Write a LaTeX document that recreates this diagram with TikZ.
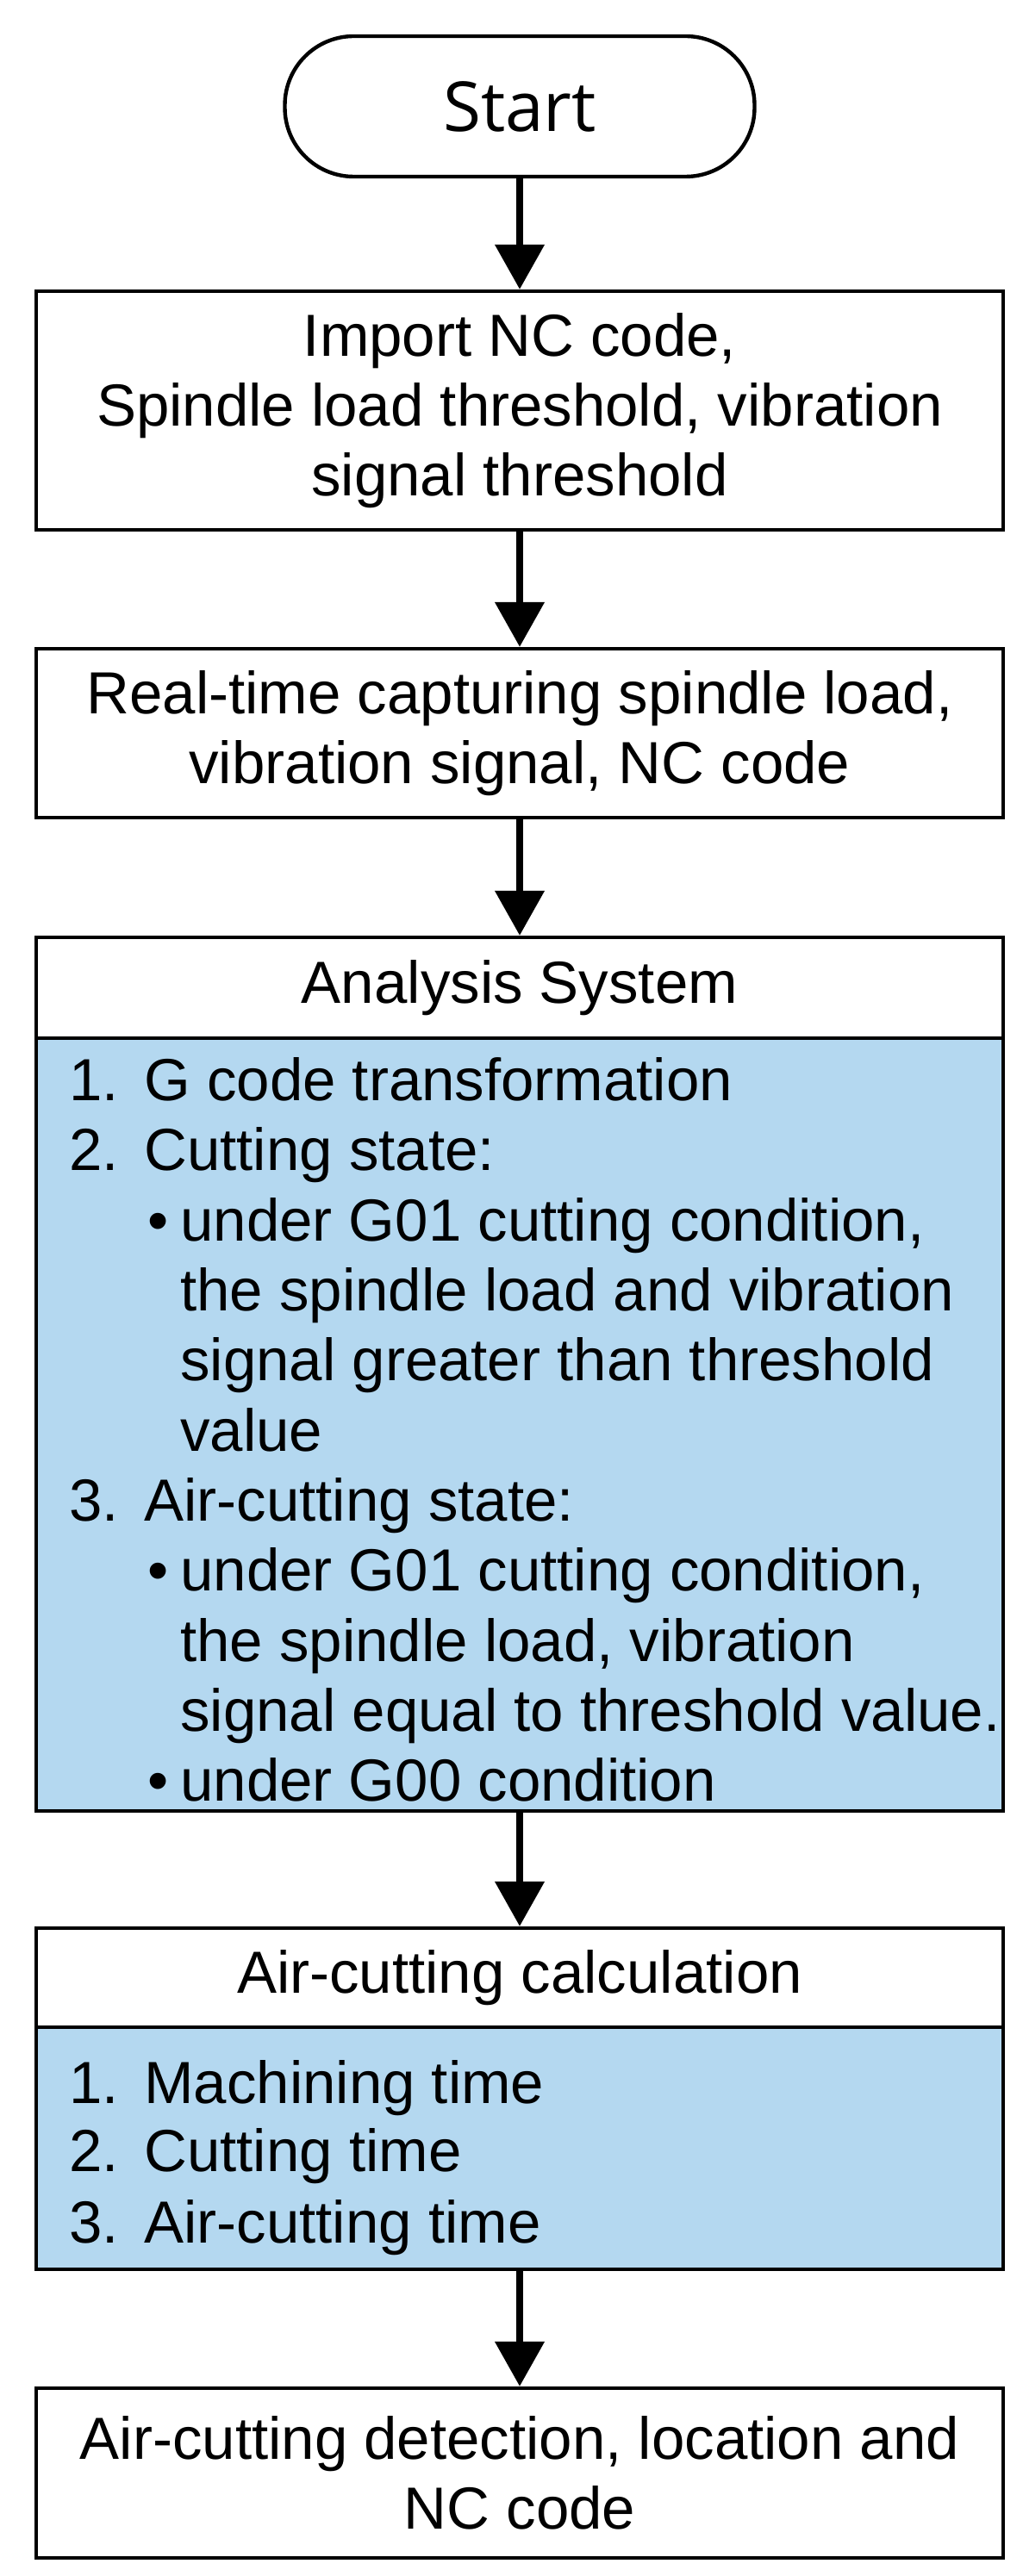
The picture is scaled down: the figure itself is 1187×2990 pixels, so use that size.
\documentclass[tikz,border=0pt]{standalone}
\usepackage{fontspec}
\setmainfont{Liberation Sans}
\newfontfamily\startfont{Open Sans}
\usetikzlibrary{arrows.meta}
\definecolor{lblue}{RGB}{180,216,240}
\begin{document}
\begin{tikzpicture}[x=0.5pt,y=-0.5pt,
  box/.style={draw=black,line width=2.2pt,minimum width=561pt,inner sep=0pt,align=center,
    font=\fontsize{34.5}{40.5}\selectfont},
  bbox/.style={box,fill=lblue},
  li/.style={anchor=base west,inner sep=0pt,font=\fontsize{34.5}{40.5}\selectfont},
  arr/.style={line width=4pt,-{Triangle[width=28pt,length=26pt]}}]
\useasboundingbox (0,0) rectangle (1187,2990);
\node[draw,line width=2.2pt,rounded corners=40pt,minimum width=272.5pt,minimum height=81.5pt,
  font=\startfont\fontsize{40}{48}\selectfont] (start) at (603,123.5) {Start};
\node[box,minimum height=138.5pt] (imp) at (603,476.5) {Import NC code,\\Spindle load threshold, vibration\\signal threshold};
\node[box,minimum height=98pt] (cap) at (603,851) {Real-time capturing spindle load,\\vibration signal, NC code};
\node[box,minimum height=58.5pt] (ah) at (603,1146.5) {Analysis System};
\node[bbox,minimum height=448.5pt] (ab) at (603,1653.5) {};
\node[box,minimum height=57.5pt] (ch) at (603,2295.5) {Air-cutting calculation};
\node[bbox,minimum height=140.5pt] (cb) at (603,2493.5) {};
\node[box,minimum height=98.5pt] (fin) at (603,2870.5) {Air-cutting detection, location and\\NC code};
% analysis list
\node[li] (a1) at (80,1277) {\makebox[43.5pt][l]{1.}G code transformation};
\node[li] (a2) at (80,1358) {\makebox[43.5pt][l]{2.}Cutting state:};
\node[li] (a3) at (80,1440) {\hspace{45.5pt}\makebox[19pt][l]{\textbullet}under G01 cutting condition,};
\node[li] (a4) at (209,1521) {the spindle load and vibration};
\node[li] (a5) at (209,1602) {signal greater than threshold};
\node[li] (a6) at (209,1684) {value};
\node[li] (a7) at (80,1765) {\makebox[43.5pt][l]{3.}Air-cutting state:};
\node[li] (a8) at (80,1846) {\hspace{45.5pt}\makebox[19pt][l]{\textbullet}under G01 cutting condition,};
\node[li] (a9) at (209,1928) {the spindle load, vibration};
\node[li] (a10) at (209,2009) {signal equal to threshold value.};
\node[li] (a11) at (80,2090) {\hspace{45.5pt}\makebox[19pt][l]{\textbullet}under G00 condition};
\node[li] (c1) at (80,2441) {\makebox[43.5pt][l]{1.}Machining time};
\node[li] (c2) at (80,2520) {\makebox[43.5pt][l]{2.}Cutting time};
\node[li] (c3) at (80,2603) {\makebox[43.5pt][l]{3.}Air-cutting time};
\draw[arr] (start.south) -- (imp.north);
\draw[arr] (imp.south) -- (cap.north);
\draw[arr] (cap.south) -- (ah.north);
\draw[arr] (ab.south) -- (ch.north);
\draw[arr] (cb.south) -- (fin.north);
\end{tikzpicture}
\end{document}
